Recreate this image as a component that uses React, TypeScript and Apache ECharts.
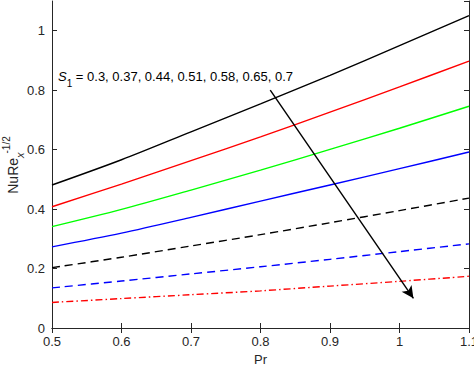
import React, { useEffect, useRef } from "react";
import * as echarts from "echarts";

const pr = [0.5, 0.6, 0.7, 0.8, 0.9, 1.0, 1.1];
const s030 = [0.481, 0.566, 0.66, 0.754, 0.85, 0.95, 1.051];
const s037 = [0.408, 0.484, 0.563, 0.643, 0.726, 0.811, 0.898];
const s044 = [0.341, 0.399, 0.464, 0.531, 0.601, 0.672, 0.746];
const s051 = [0.273, 0.319, 0.372, 0.427, 0.481, 0.536, 0.592];
const s058 = [0.203, 0.238, 0.276, 0.314, 0.354, 0.395, 0.437];
const s065 = [0.135, 0.158, 0.182, 0.206, 0.231, 0.257, 0.283];
const s070 = [0.086, 0.099, 0.112, 0.125, 0.141, 0.157, 0.174];
const arrowStart = [0.814, 0.8];
const arrowEnd = [1.02, 0.1];

const FONT = '"Liberation Sans", Arial, Helvetica, sans-serif';
const AX = "#262626";

export default function App() {
  const ref = useRef<HTMLDivElement>(null);
  useEffect(() => {
    if (!ref.current) return;
    const chart = echarts.init(ref.current, undefined, { renderer: "svg" });
    const mk = (name: string, vals: number[], color: string, type: any) => ({
      name,
      type: "line",
      data: pr.map((p, i) => [p, vals[i]]),
      showSymbol: false,
      symbol: "none",
      smooth: 0.3,
      lineStyle: { color, width: 1.4, type },
      z: 3,
    });
    const tickCommon = {
      axisLine: { show: true, lineStyle: { color: AX, width: 1 } },
      axisTick: { show: true, inside: true, length: 5, lineStyle: { color: AX, width: 1 } },
      splitLine: { show: false },
    };
    const series: any[] = [
      mk("0.3", s030, "#000000", "solid"),
      mk("0.37", s037, "#ff0000", "solid"),
      mk("0.44", s044, "#00ff00", "solid"),
      mk("0.51", s051, "#0000ff", "solid"),
      mk("0.58", s058, "#000000", [8, 5]),
      mk("0.65", s065, "#0000ff", [8, 5]),
      mk("0.7", s070, "#ff0000", [7, 3, 1.5, 3]),
    ];
    series[0].markLine = {
      silent: true,
      symbol: ["none", "arrow"],
      symbolSize: [9, 12],
      label: { show: false },
      lineStyle: { color: "#000", width: 1.4, type: "solid" },
      data: [[{ coord: arrowStart }, { coord: arrowEnd }]],
    };
    chart.setOption({
      animation: false,
      backgroundColor: "#ffffff",
      grid: { left: 52, right: 5, top: 1, bottom: 38, containLabel: false, outerBoundsMode: "none" },
      xAxis: [
        {
          type: "value",
          min: 0.5,
          max: 1.1,
          interval: 0.1,
          position: "bottom",
          ...tickCommon,
          axisLabel: {
            color: AX,
            fontFamily: FONT,
            fontSize: 13,
            margin: 7,
            formatter: (v: number) => String(Math.round(v * 10) / 10),
          },
          name: "Pr",
          nameLocation: "middle",
          nameGap: 22,
          nameTextStyle: { color: AX, fontFamily: FONT, fontSize: 13 },
        },
        {
          type: "value",
          min: 0.5,
          max: 1.1,
          interval: 0.1,
          position: "top",
          ...tickCommon,
          axisLabel: { show: false },
        },
      ],
      yAxis: [
        {
          type: "value",
          min: 0,
          max: 1.1,
          interval: 0.2,
          position: "left",
          ...tickCommon,
          axisLabel: {
            color: AX,
            fontFamily: FONT,
            fontSize: 13,
            margin: 7,
            showMaxLabel: false,
            formatter: (v: number) => (v > 1.05 ? "" : String(Math.round(v * 10) / 10)),
          },
        },
        {
          type: "value",
          min: 0,
          max: 1.1,
          interval: 0.2,
          position: "right",
          ...tickCommon,
          axisLabel: { show: false },
        },
      ],
      graphic: [
        {
          type: "text",
          x: 13,
          y: 165,
          rotation: Math.PI / 2,
          z: 10,
          style: {
            text: "{n|NuRe}{sub|x}{sup|-1/2}",
            align: "center",
            verticalAlign: "middle",
            rich: {
              n: { fontSize: 14, fontFamily: FONT, fill: AX, lineHeight: 18, verticalAlign: "middle" },
              sub: { fontSize: 11, fontStyle: "italic", fontFamily: FONT, fill: AX, verticalAlign: "bottom", lineHeight: 18, padding: [0, 0, -3, 0] },
              sup: { fontSize: 10, fontFamily: FONT, fill: AX, verticalAlign: "top", lineHeight: 18, padding: [-3, 0, 0, -1] },
            },
          },
        },
        {
          type: "text",
          left: 58,
          top: 70,
          z: 10,
          style: {
            text: "{s|S}{sub|1}{t| = 0.3, 0.37, 0.44, 0.51, 0.58, 0.65, 0.7}",
            fill: "#000",
            rich: {
              s: { fontSize: 13, fontStyle: "italic", fontFamily: FONT, fill: "#000", lineHeight: 18, verticalAlign: "middle" },
              sub: { fontSize: 10, fontFamily: FONT, fill: "#000", lineHeight: 18, verticalAlign: "bottom", padding: [0, 0, -3, 0] },
              t: { fontSize: 13, fontFamily: FONT, fill: "#000", lineHeight: 18, verticalAlign: "middle" },
            },
          },
        },
      ],
      series,
    });
    return () => chart.dispose();
  }, []);
  return <div ref={ref} style={{ width: 474, height: 366, position: "absolute", left: 0, top: 0 }} />;
}
